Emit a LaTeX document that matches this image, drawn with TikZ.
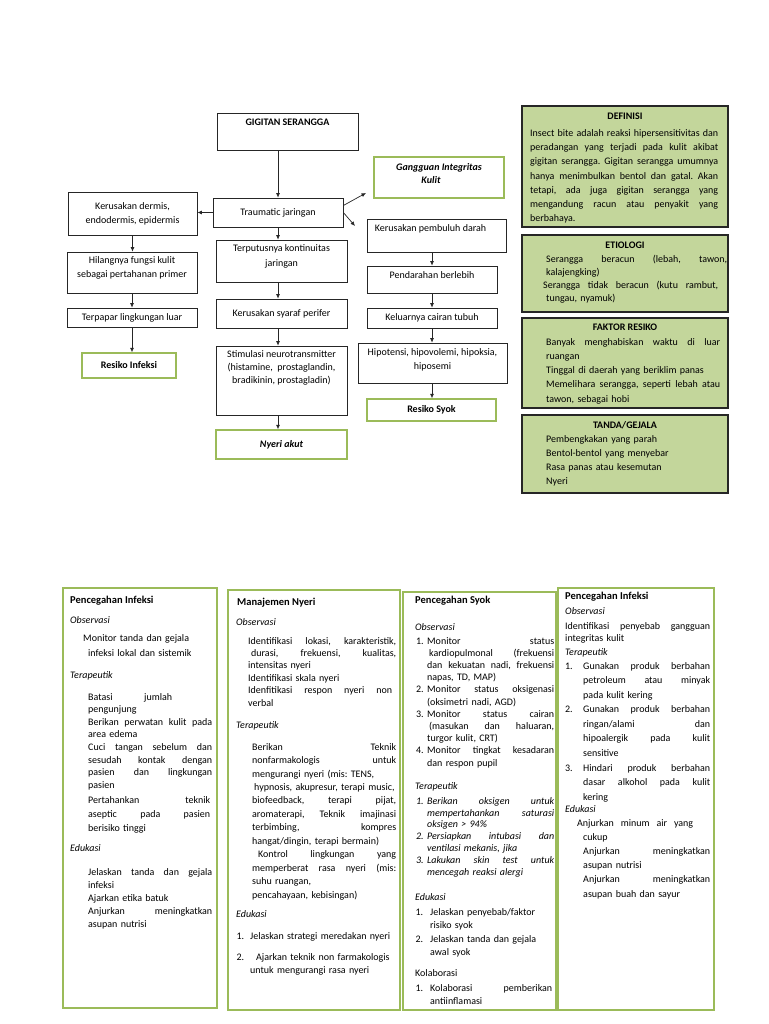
\documentclass[tikz,border=0pt]{standalone}
\usepackage{fontspec}
\setmainfont{Carlito}
\frenchspacing
\usetikzlibrary{arrows.meta,positioning}
\definecolor{grn}{HTML}{9BBB59}
\definecolor{olv}{HTML}{C3D69B}
% justified line: \jl over the block width, \jx over a given width
\newcommand{\jx}[2]{\leavevmode\hbox to #1{\spaceskip=.226em plus 1fil\relax #2}}
\newcommand{\jl}[1]{\jx{\jlw}{#1}}
\newcommand{\jlw}{100pt}

\begin{document}
\begin{tikzpicture}[x=1pt, y=-1pt,
    every node/.style={font=\fontsize{10}{13}\selectfont},
    fbox/.style={draw=black!85, line width=0.7pt, inner sep=2pt, align=center},
    gbox/.style={draw=grn, line width=1.5pt, inner sep=2pt, align=center},
    ibox/.style={draw=black!85, fill=olv, line width=1.6pt},
    pbox/.style={draw=grn, line width=2pt},
    ttop/.style={anchor=north, inner sep=0pt, align=center},
    hd/.style={anchor=north west, inner sep=0pt, font=\bfseries\fontsize{10.5}{12}\selectfont},
    sub/.style={anchor=north west, inner sep=0pt, font=\itshape\fontsize{10}{12}\selectfont},
    blk/.style={anchor=north west, inner sep=0pt, align=left, text width=#1,
      execute at begin node={\renewcommand{\jlw}{#1}}},
    lsp/.style={font=\fontsize{10}{#1}\selectfont},
    ilsp/.style={font=\itshape\fontsize{10}{#1}\selectfont},
    arr/.style={-{Latex[length=4.5pt,width=4pt]}, draw=black!85, line width=0.7pt}]
\path[use as bounding box, fill=white] (0,0) rectangle (768,1024);

% flowchart
\node[fbox, minimum width=141pt, minimum height=37pt] (gigit) at (287.5,131.5) {};
\node[ttop, font=\bfseries\fontsize{10}{13}\selectfont] (gigit-t) at ([yshift=-6pt]gigit.north) {GIGITAN SERANGGA};
\node[fbox, minimum width=130pt, minimum height=29pt] (trauma) at (278,212.5) {Traumatic jaringan};
\node[fbox, minimum width=129pt, minimum height=43pt, lsp=14] (dermis) at (132.5,213.5) {Kerusakan dermis,\\endodermis, epidermis};
\node[fbox, minimum width=130pt, minimum height=41pt] (hilang) at (132,272.5) {};
\node[ttop, lsp=13.5] (hilang-t) at ([yshift=-5pt]hilang.north) {Hilangnya fungsi kulit\\sebagai pertahanan primer};
\node[fbox, minimum width=130pt, minimum height=19pt] (luar) at (132,317.5) {Terpapar lingkungan luar};
\node[gbox, minimum width=94pt, minimum height=25pt, font=\bfseries\fontsize{10}{13}\selectfont] (rinf) at (129,365.5) {Resiko Infeksi};

\node[fbox, minimum width=131pt, minimum height=42pt] (putus) at (281.5,261) {};
\node[ttop, lsp=15] (putus-t) at ([yshift=-5pt]putus.north) {Terputusnya kontinuitas\\jaringan};
\node[fbox, minimum width=131pt, minimum height=29pt] (syaraf) at (281.5,313.5) {Kerusakan syaraf perifer};
\node[fbox, minimum width=131pt, minimum height=69pt] (stim) at (281.5,380.5) {};
\node[ttop] (stim-t) at ([yshift=-5pt]stim.north) {Stimulasi neurotransmitter\\(histamine,\ \ prostaglandin,\\bradikinin, prostagladin)};
\node[gbox, minimum width=131pt, minimum height=29pt, font=\bfseries\itshape\fontsize{10}{13}\selectfont] (nyeri) at (281.5,444.5) {Nyeri akut};

\node[gbox, minimum width=130pt, minimum height=41pt] (ggn) at (439,177.5) {};
\node[ttop, font=\bfseries\itshape\fontsize{10}{13}\selectfont] (ggn-t) at ([yshift=-7pt]ggn.north) {Gangguan Integritas\\Kulit\hspace*{16pt}};
\node[fbox, minimum width=139pt, minimum height=33pt] (pemb) at (436.5,235.5) {};
\node[ttop] (pemb-t) at ([xshift=-6pt,yshift=-6pt]pemb.north) {Kerusakan pembuluh darah};
\node[fbox, minimum width=130pt, minimum height=27pt] (darah) at (432,279.5) {};
\node[ttop] (darah-t) at ([yshift=-6pt]darah.north) {Pendarahan berlebih};
\node[fbox, minimum width=130pt, minimum height=20pt] (cair) at (432,318) {Keluarnya cairan tubuh};
\node[fbox, minimum width=149pt, minimum height=40pt] (hipo) at (432.5,363) {};
\node[ttop, lsp=14] (hipo-t) at ([yshift=-6pt]hipo.north) {Hipotensi, hipovolemi, hipoksia,\\hiposemi};
\node[gbox, minimum width=129pt, minimum height=22pt, font=\bfseries\fontsize{10}{13}\selectfont] (rsyok) at (431.5,410) {Resiko Syok};

\coordinate (ggn-in) at (366,193);
\coordinate (pemb-in) at (355,226);
\draw[arr] (gigit.south -| trauma.north) -- (trauma.north);
\draw[arr] (trauma.west) -- (trauma.west -| dermis.east);
\draw[arr] ([yshift=7pt]trauma.east) -- (ggn-in);
\draw[arr] (trauma.east) -- (pemb-in);
\draw[arr] (trauma.south) -- (trauma.south |- putus.north);
\draw[arr] (dermis.south) -- (dermis.south |- hilang.north);
\draw[arr] (hilang.south) -- (luar.north);
\draw[arr] (luar.south) -- (luar.south |- rinf.north);
\draw[arr] (putus.south -| trauma) -- (syaraf.north -| trauma);
\draw[arr] (syaraf.south -| trauma) -- (stim.north -| trauma);
\draw[arr] (stim.south -| trauma) -- (nyeri.north -| trauma);
\draw[arr] (pemb.south -| darah) -- (darah.north);
\draw[arr] (darah.south) -- (cair.north);
\draw[arr] (cair.south) -- (hipo.north -| cair);
\draw[arr] (hipo.south -| cair) -- (rsyok.north -| cair);

% info boxes
\node[ibox, minimum width=206pt, minimum height=121pt] (defin) at (625,166.5) {};
\node[ttop, font=\bfseries\fontsize{10}{13}\selectfont] (defin-t) at (625,113) {DEFINISI};
\node[blk=188pt, lsp=14.3] (defin-p) at (530,129) {\jl{Insect bite adalah reaksi hipersensitivitas dan}\\
  \jl{peradangan yang terjadi pada kulit akibat}\\
  \jl{gigitan serangga. Gigitan serangga umumnya}\\
  \jl{hanya menimbulkan bentol dan gatal. Akan}\\
  \jl{tetapi, ada juga gigitan serangga yang}\\
  \jl{mengandung racun atau penyakit yang}\\
  berbahaya.};

\node[ibox, minimum width=206pt, minimum height=77pt] (etio) at (625,273.5) {};
\node[ttop, font=\bfseries\fontsize{10}{13}\selectfont] (etio-t) at (625,242) {ETIOLOGI};
\node[blk=184pt, lsp=13] (etio-p) at (543,255) {\hspace*{3pt}\jx{181pt}{Serangga beracun (lebah, tawon,}\\
  \hspace*{3pt}kalajengking)\\
  \jx{175pt}{Serangga tidak beracun (kutu rambut,}\\
  \hspace*{3pt}tungau, nyamuk)};

\node[ibox, minimum width=206pt, minimum height=90pt] (faktor) at (625,363) {};
\node[ttop, font=\bfseries\fontsize{10}{13}\selectfont] (faktor-t) at (625,324) {FAKTOR RESIKO};
\node[blk=174pt, lsp=14.25] (faktor-p) at (546,338) {\jl{Banyak menghabiskan waktu di luar}\\
  ruangan\\
  Tinggal di daerah yang beriklim panas\\
  \jl{Memelihara serangga, seperti lebah atau}\\
  tawon, sebagai hobi};

\node[ibox, minimum width=206pt, minimum height=78pt] (tanda) at (625,454) {};
\node[ttop, font=\bfseries\fontsize{10}{13}\selectfont] (tanda-t) at (625,421) {TANDA/GEJALA};
\node[blk=174pt, lsp=14] (tanda-p) at (546,435) {Pembengkakan yang parah\\
  Bentol-bentol yang menyebar\\
  Rasa panas atau kesemutan\\
  Nyeri};

% intervensi
\node[pbox, minimum width=154pt, minimum height=420pt] (pinf) at (140,798) {};
\node[pbox, minimum width=172pt, minimum height=420pt] (mnyeri) at (314,800) {};
\node[pbox, minimum width=153pt, minimum height=418pt] (psyok) at (479.5,801) {};
\node[pbox, minimum width=156pt, minimum height=422pt] (pinf2) at (636,799) {};

% pencegahan infeksi
\node[hd] (pinf-h) at (70,596) {Pencegahan Infeksi};
\node[sub] (pinf-o) at (70,616) {Observasi};
\node[blk=130pt, lsp=15] (pinf-o1) at (83,634) {Monitor tanda dan gejala\\ \hspace*{5pt}infeksi lokal dan sistemik};
\node[sub] (pinf-t) at (70,671) {Terapeutik};
\node[blk=124pt, lsp=12.6] (pinf-t1) at (88,693) {\jx{84pt}{Batasi jumlah}\\
  pengunjung\\
  \jl{Berikan perwatan kulit pada}\\
  area edema\\
  \jl{Cuci tangan sebelum dan}\\
  \jl{sesudah kontak dengan}\\
  \jl{pasien dan lingkungan}\\
  pasien};
\node[blk=124pt, lsp=14] (pinf-t2) at (88,796) {\jx{122pt}{Pertahankan teknik}\\
  \jx{122pt}{aseptic pada pasien}\\
  berisiko tinggi};
\node[sub] (pinf-e) at (70,844) {Edukasi};
\node[blk=124pt, lsp=13.2] (pinf-e1) at (88,868) {\jl{Jelaskan tanda dan gejala}\\
  infeksi\\
  Ajarkan etika batuk\\
  \jl{Anjurkan meningkatkan}\\
  asupan nutrisi};

% manajemen nyeri
\node[hd] (mn-h) at (237,598) {Manajemen Nyeri};
\node[sub] (mn-o) at (236,618) {Observasi};
\node[blk=148pt, lsp=12.4] (mn-o1) at (248,637) {\jl{Identifikasi lokasi, karakteristik,}\\
  \hspace*{3pt}\jx{145pt}{durasi, frekuensi, kualitas,}\\
  intensitas nyeri\\
  Identifikasi skala nyeri\\
  \jx{144pt}{Idenfitikasi respon nyeri non}\\
  verbal};
\node[sub] (mn-t) at (236,721) {Terapeutik};
\node[blk=144pt, lsp=13.45] (mn-t1) at (252,743) {\jl{Berikan Teknik}\\
  \jl{nonfarmakologis untuk}\\
  mengurangi nyeri (mis: TENS,\\
  \hspace*{2pt}hypnosis, akupresur, terapi music,\\
  \jl{biofeedback, terapi pijat,}\\
  \jl{aromaterapi, Teknik imajinasi}\\
  \jl{terbimbing, kompres}\\
  hangat/dingin, terapi bermain)\\
  \hspace*{6pt}\jx{138pt}{Kontrol lingkungan yang}\\
  \jl{memperberat rasa nyeri (mis:}\\
  suhu ruangan,\\
  pencahayaan, kebisingan)};
\node[sub] (mn-e) at (236,910) {Edukasi};
\node[blk=152pt, lsp=13] (mn-e1) at (250,932) {\leavevmode\llap{1.\hspace{6pt}}Jelaskan strategi meredakan nyeri};
\node[blk=152pt, lsp=13.5] (mn-e2) at (250,953) {\leavevmode\llap{2.\hspace{6pt}}\hspace*{6pt}Ajarkan teknik non farmakologis\\
  untuk mengurangi rasa nyeri};

% pencegahan syok
\node[hd] (ps-h) at (415,596) {Pencegahan Syok};
\node[sub] (ps-o) at (415,623) {Observasi};
\node[blk=127pt, lsp=12.2] (ps-o1) at (427,637) {\leavevmode\llap{1.\hspace{3.5pt}}\jl{Monitor status}\\
  \hspace*{2pt}\jx{125pt}{kardiopulmonal (frekuensi}\\
  \jl{dan kekuatan nadi, frekuensi}\\
  napas, TD, MAP)\\
  \leavevmode\llap{2.\hspace{3.5pt}}\jl{Monitor status oksigenasi}\\
  (oksimetri nadi, AGD)\\
  \leavevmode\llap{3.\hspace{3.5pt}}\jl{Monitor status cairan}\\
  \hspace*{2pt}\jx{125pt}{(masukan dan haluaran,}\\
  turgor kulit, CRT)\\
  \leavevmode\llap{4.\hspace{3.5pt}}\jl{Monitor tingkat kesadaran}\\
  dan respon pupil};
\node[sub] (ps-t) at (415,782) {Terapeutik};
\node[blk=127pt, ilsp=11.9] (ps-t1) at (427,797) {\leavevmode\llap{1.\hspace{3.5pt}}\jl{Berikan oksigen untuk}\\
  \jl{mempertahankan saturasi}\\
  oksigen > 94\%\\
  \leavevmode\llap{2.\hspace{3.5pt}}\jl{Persiapkan intubasi dan}\\
  ventilasi mekanis, jika\\
  \leavevmode\llap{3.\hspace{3.5pt}}\jl{Lakukan skin test untuk}\\
  mencegah reaksi alergi};
\node[sub] (ps-e) at (415,893) {Edukasi};
\node[blk=124pt, lsp=13.5] (ps-e1) at (430,908) {\leavevmode\llap{1.\hspace{7pt}}Jelaskan penyebab/faktor\\
  risiko syok\\
  \leavevmode\llap{2.\hspace{7pt}}Jelaskan tanda dan gejala\\
  awal syok};
\node[blk=124pt, lsp=12] (ps-k) at (415,969) {Kolaborasi};
\node[blk=124pt, lsp=13] (ps-k1) at (430,984) {\leavevmode\llap{1.\hspace{7pt}}\jx{122pt}{Kolaborasi pemberikan}\\
  antiinflamasi};

% pencegahan infeksi (kulit)
\node[hd] (pk-h) at (565,592) {Pencegahan Infeksi};
\node[sub] (pk-o) at (565,607) {Observasi};
\node[blk=145pt, lsp=12.5] (pk-o1) at (565,622) {\jl{Identifikasi penyebab gangguan}\\
  integritas kulit};
\node[sub] (pk-t) at (565,648) {Terapeutik};
\node[blk=127pt, lsp=14.55] (pk-t1) at (583,662) {\leavevmode\llap{1.\hspace{10.5pt}}\jl{Gunakan produk berbahan}\\
  \jl{petroleum atau minyak}\\
  pada kulit kering\\
  \leavevmode\llap{2.\hspace{10.5pt}}\jl{Gunakan produk berbahan}\\
  \jl{ringan/alami dan}\\
  \jl{hipoalergik pada kulit}\\
  sensitive\\
  \leavevmode\llap{3.\hspace{10.5pt}}\jl{Hindari produk berbahan}\\
  \jl{dasar alkohol pada kulit}\\
  kering};
\node[sub] (pk-e) at (565,805) {Edukasi};
\node[blk=140pt, lsp=14.2] (pk-e1) at (577,819) {\jx{116pt}{Anjurkan minum air yang}\\
  \hspace*{6pt}cukup\\
  \hspace*{6pt}\jx{127pt}{Anjurkan meningkatkan}\\
  \hspace*{6pt}asupan nutrisi\\
  \hspace*{6pt}\jx{127pt}{Anjurkan meningkatkan}\\
  \hspace*{6pt}asupan buah dan sayur};
\end{tikzpicture}
\end{document}
